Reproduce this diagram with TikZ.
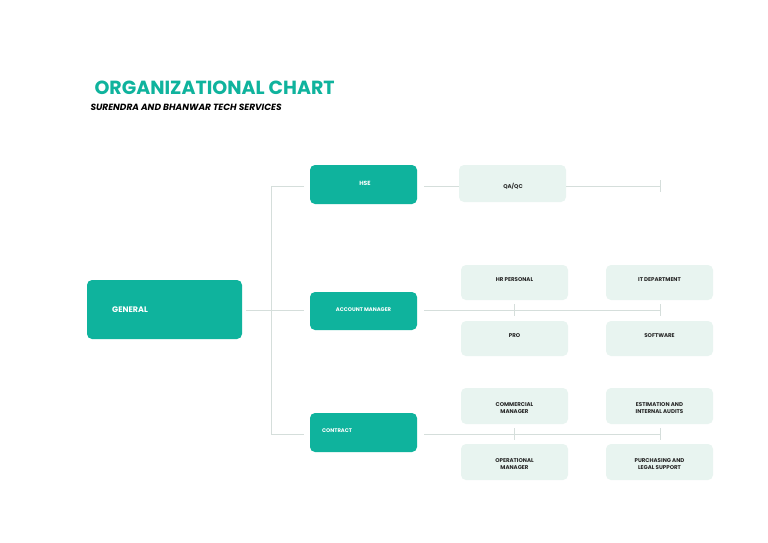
\documentclass[tikz,border=0pt]{standalone}
\usepackage{fontspec}
\setmainfont{Poppins}
\definecolor{teal1}{HTML}{0FB39D}
\definecolor{lite}{HTML}{E8F4F0}
\definecolor{ln}{HTML}{D5DEDB}
\begin{document}
\begin{tikzpicture}[x=1pt,y=-1pt,
  dark/.style={fill=teal1,rounded corners=5pt,text=white,font=\bfseries\fontsize{6}{7}\selectfont,inner sep=0},
  light/.style={fill=lite,rounded corners=5pt,text=black!85,font=\bfseries\fontsize{5.5}{7}\selectfont,align=center,inner sep=0},
  cn/.style={draw=ln,line width=0.8pt}]
\useasboundingbox (0,0) rectangle (768,543);
\fill[white] (0,0) rectangle (768,543);
\node[anchor=west,text=teal1,font=\bfseries\fontsize{19}{22}\selectfont] (title) at (91,88) {ORGANIZATIONAL CHART};
\node[anchor=west,font=\bfseries\itshape\fontsize{9}{11}\selectfont] (sub) at (87,107) {SURENDRA AND BHANWAR TECH SERVICES};
% dark boxes
\path[dark] (87,280) rectangle (242,339); \node[dark,anchor=west,font=\bfseries\fontsize{8}{9}\selectfont] (gen) at (112,310) {GENERAL};
\path[dark] (310,165) rectangle (417,204); \node[dark] (hse) at (365,183) {HSE};
\path[dark] (310,292) rectangle (417,330); \node[dark,font=\bfseries\fontsize{5.3}{7}\selectfont] (am) at (363.5,310) {ACCOUNT MANAGER};
\path[dark] (310,413) rectangle (417,452); \node[dark,anchor=west,font=\bfseries\fontsize{5.3}{7}\selectfont] (con) at (322,431) {CONTRACT};
% light boxes
\path[light] (459,165) rectangle (566,202); \node[light] (qa) at (513,186) {QA/QC};
\path[light] (461,265) rectangle (568,300); \node[light] (hr) at (514.5,280) {HR PERSONAL};
\path[light] (606,265) rectangle (713,300); \node[light] (it) at (659.5,280) {IT DEPARTMENT};
\path[light] (461,321) rectangle (568,356); \node[light] (pro) at (514.5,336) {PRO};
\path[light] (606,321) rectangle (713,356); \node[light] (sw) at (659.5,336) {SOFTWARE};
\path[light] (461,388) rectangle (568,424); \node[light] (cm) at (514.5,408) {COMMERCIAL\\MANAGER};
\path[light] (606,388) rectangle (713,424); \node[light] (est) at (659.5,408) {ESTIMATION AND\\INTERNAL AUDITS};
\path[light] (461,444) rectangle (568,480); \node[light] (om) at (514.5,464) {OPERATIONAL\\MANAGER};
\path[light] (606,444) rectangle (713,480); \node[light] (pl) at (659.5,464) {PURCHASING AND\\LEGAL SUPPORT};
% connectors
\coordinate (g1) at (246,310); \coordinate (g2) at (304,310);
\draw[cn] (g1) -- (g2);
\coordinate (v1) at (271,186); \coordinate (v2) at (271,434);
\coordinate (h1) at (304,186); \coordinate (c1) at (304,434);
\draw[cn] (h1) -- (v1) -- (v2) -- (c1);
\coordinate (a1) at (424,186); \coordinate (a2) at (459,186);
\draw[cn] (a1) -- (a2);
\coordinate (q1) at (566,186); \coordinate (q2) at (660,186);
\draw[cn] (q1) -- (q2); \draw[cn] (660,180) -- (660,192);
\coordinate (m1) at (424,310); \coordinate (m2) at (660,310);
\draw[cn] (m1) -- (m2);
\draw[cn] (514,304) -- (514,316); \draw[cn] (660,304) -- (660,316);
\coordinate (k1) at (424,434); \coordinate (k2) at (660,434);
\draw[cn] (k1) -- (k2);
\draw[cn] (514,428) -- (514,440); \draw[cn] (660,428) -- (660,440);
\end{tikzpicture}
\end{document}
